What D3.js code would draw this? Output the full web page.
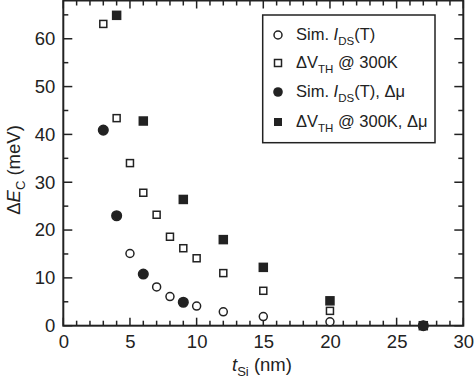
<!DOCTYPE html>
<html><head><meta charset="utf-8">
<script src="https://cdn.jsdelivr.net/npm/d3@7"></script>
<style>body{margin:0;background:#fff}svg{display:block}text{font-family:"Liberation Sans",Arial,sans-serif;fill:#222}</style>
</head><body><div id="c"></div>
<script>
const simX = [5,7,8,10,12,15,20,27];
const simY = [15.1,8.1,6.1,4.1,2.9,1.9,0.8,0];
const vthX = [3,4,5,6,7,8,9,10,12,15,20,27];
const vthY = [63.1,43.4,34.0,27.8,23.2,18.6,16.2,14.1,11.0,7.3,3.1,0];
const simMuX = [3,4,6,9,27];
const simMuY = [40.9,23.0,10.8,4.9,0];
const vthMuX = [4,6,9,12,15,20,27];
const vthMuY = [64.9,42.8,26.4,18.0,12.2,5.2,0];
const xTicks = [0,5,10,15,20,25,30];
const yTicks = [0,10,20,30,40,50,60];

const W=474,H=381, m={l:63.3,r:10.7,t:0.5,b:55.3};
const svg=d3.select("#c").append("svg").attr("width",W).attr("height",H);
const x=d3.scaleLinear().domain([0,30]).range([m.l,W-m.r]);
const y=d3.scaleLinear().domain([0,68]).range([H-m.b,m.t]);
const col="#222";

svg.append("rect").attr("x",x(0)).attr("y",y(68)).attr("width",x(30)-x(0)).attr("height",y(0)-y(68))
  .attr("fill","none").attr("stroke",col).attr("stroke-width",2);

const xMinor=d3.range(0,31,1), yMinor=d3.range(0,68,5);
const g=svg.append("g").attr("stroke",col).attr("stroke-width",1.5);
xMinor.forEach(v=>{const L=v%5===0?8:5;
  g.append("line").attr("x1",x(v)).attr("x2",x(v)).attr("y1",y(0)).attr("y2",y(0)-L);
  g.append("line").attr("x1",x(v)).attr("x2",x(v)).attr("y1",y(68)).attr("y2",y(68)+L);});
yMinor.forEach(v=>{const L=v%10===0?9:5;
  g.append("line").attr("y1",y(v)).attr("y2",y(v)).attr("x1",x(0)).attr("x2",x(0)+L);
  g.append("line").attr("y1",y(v)).attr("y2",y(v)).attr("x1",x(30)).attr("x2",x(30)-L);});

const xa=svg.append("g").attr("transform",`translate(0,${y(0)})`)
  .call(d3.axisBottom(x).tickValues(xTicks).tickSize(0).tickPadding(9));
xa.select(".domain").remove();
xa.selectAll("text").attr("font-size",18.5).style("font-family","Liberation Sans, Arial, sans-serif").attr("fill","#222");
const ya=svg.append("g").attr("transform",`translate(${x(0)},0)`)
  .call(d3.axisLeft(y).tickValues(yTicks).tickSize(0).tickPadding(8));
ya.select(".domain").remove();
ya.selectAll("text").attr("font-size",18.5).style("font-family","Liberation Sans, Arial, sans-serif").attr("fill","#222");

const yt=svg.append("text").attr("transform",`translate(20,170) rotate(-90)`).attr("text-anchor","middle").attr("font-size",18.5);
yt.append("tspan").text("Δ");
yt.append("tspan").attr("font-style","italic").text("E");
yt.append("tspan").attr("font-size",13).attr("dy",5).text("C");
yt.append("tspan").attr("dy",-5).text(" (meV)");
const xt=svg.append("text").attr("x",262).attr("y",371).attr("text-anchor","middle").attr("font-size",18.5);
xt.append("tspan").attr("font-style","italic").text("t");
xt.append("tspan").attr("font-size",13).attr("dy",5).text("Si");
xt.append("tspan").attr("dy",-5).text(" (nm)");

function circles(X,Y,r,fill){svg.append("g").selectAll("circle").data(X.map((v,i)=>[v,Y[i]])).join("circle")
  .attr("cx",d=>x(d[0])).attr("cy",d=>y(d[1])).attr("r",r).attr("fill",fill).attr("stroke",col).attr("stroke-width",1.5);}
function squares(X,Y,s,fill){svg.append("g").selectAll("rect").data(X.map((v,i)=>[v,Y[i]])).join("rect")
  .attr("x",d=>x(d[0])-s/2).attr("y",d=>y(d[1])-s/2).attr("width",s).attr("height",s).attr("fill",fill).attr("stroke",col).attr("stroke-width",1.5);}
squares(vthX,vthY,7,"#fff");
circles(simX,simY,4,"#fff");
squares(vthMuX,vthMuY,8,col);
circles(simMuX,simMuY,4.8,col);

svg.append("rect").attr("x",262.7).attr("y",15).attr("width",172.3).attr("height",127.7).attr("fill","#fff").attr("stroke",col).attr("stroke-width",1.5);
const rows=[35,63,92,122], mx=278, tx=296;
svg.append("circle").attr("cx",mx).attr("cy",rows[0]).attr("r",4).attr("fill","#fff").attr("stroke",col).attr("stroke-width",1.5);
svg.append("rect").attr("x",mx-3.5).attr("y",rows[1]-3.5).attr("width",7).attr("height",7).attr("fill","#fff").attr("stroke",col).attr("stroke-width",1.5);
svg.append("circle").attr("cx",mx).attr("cy",rows[2]).attr("r",4.8).attr("fill",col);
svg.append("rect").attr("x",mx-4).attr("y",rows[3]-4).attr("width",8).attr("height",8).attr("fill",col);
function leg(yy,parts){const t=svg.append("text").attr("x",tx).attr("y",yy+5).attr("font-size",16.5);
  parts.forEach(p=>{const s=t.append("tspan").text(p.t); if(p.i)s.attr("font-style","italic"); if(p.sub){s.attr("font-size",11.5).attr("dy",5);} if(p.up)s.attr("dy",-5);});}
leg(rows[0],[{t:"Sim. "},{t:"I",i:1},{t:"DS",sub:1},{t:"(T)",up:1}]);
leg(rows[1],[{t:"ΔV"},{t:"TH",sub:1},{t:" @ 300K",up:1}]);
leg(rows[2],[{t:"Sim. "},{t:"I",i:1},{t:"DS",sub:1},{t:"(T), Δμ",up:1}]);
leg(rows[3],[{t:"ΔV"},{t:"TH",sub:1},{t:" @ 300K, Δμ",up:1}]);
</script></body></html>
